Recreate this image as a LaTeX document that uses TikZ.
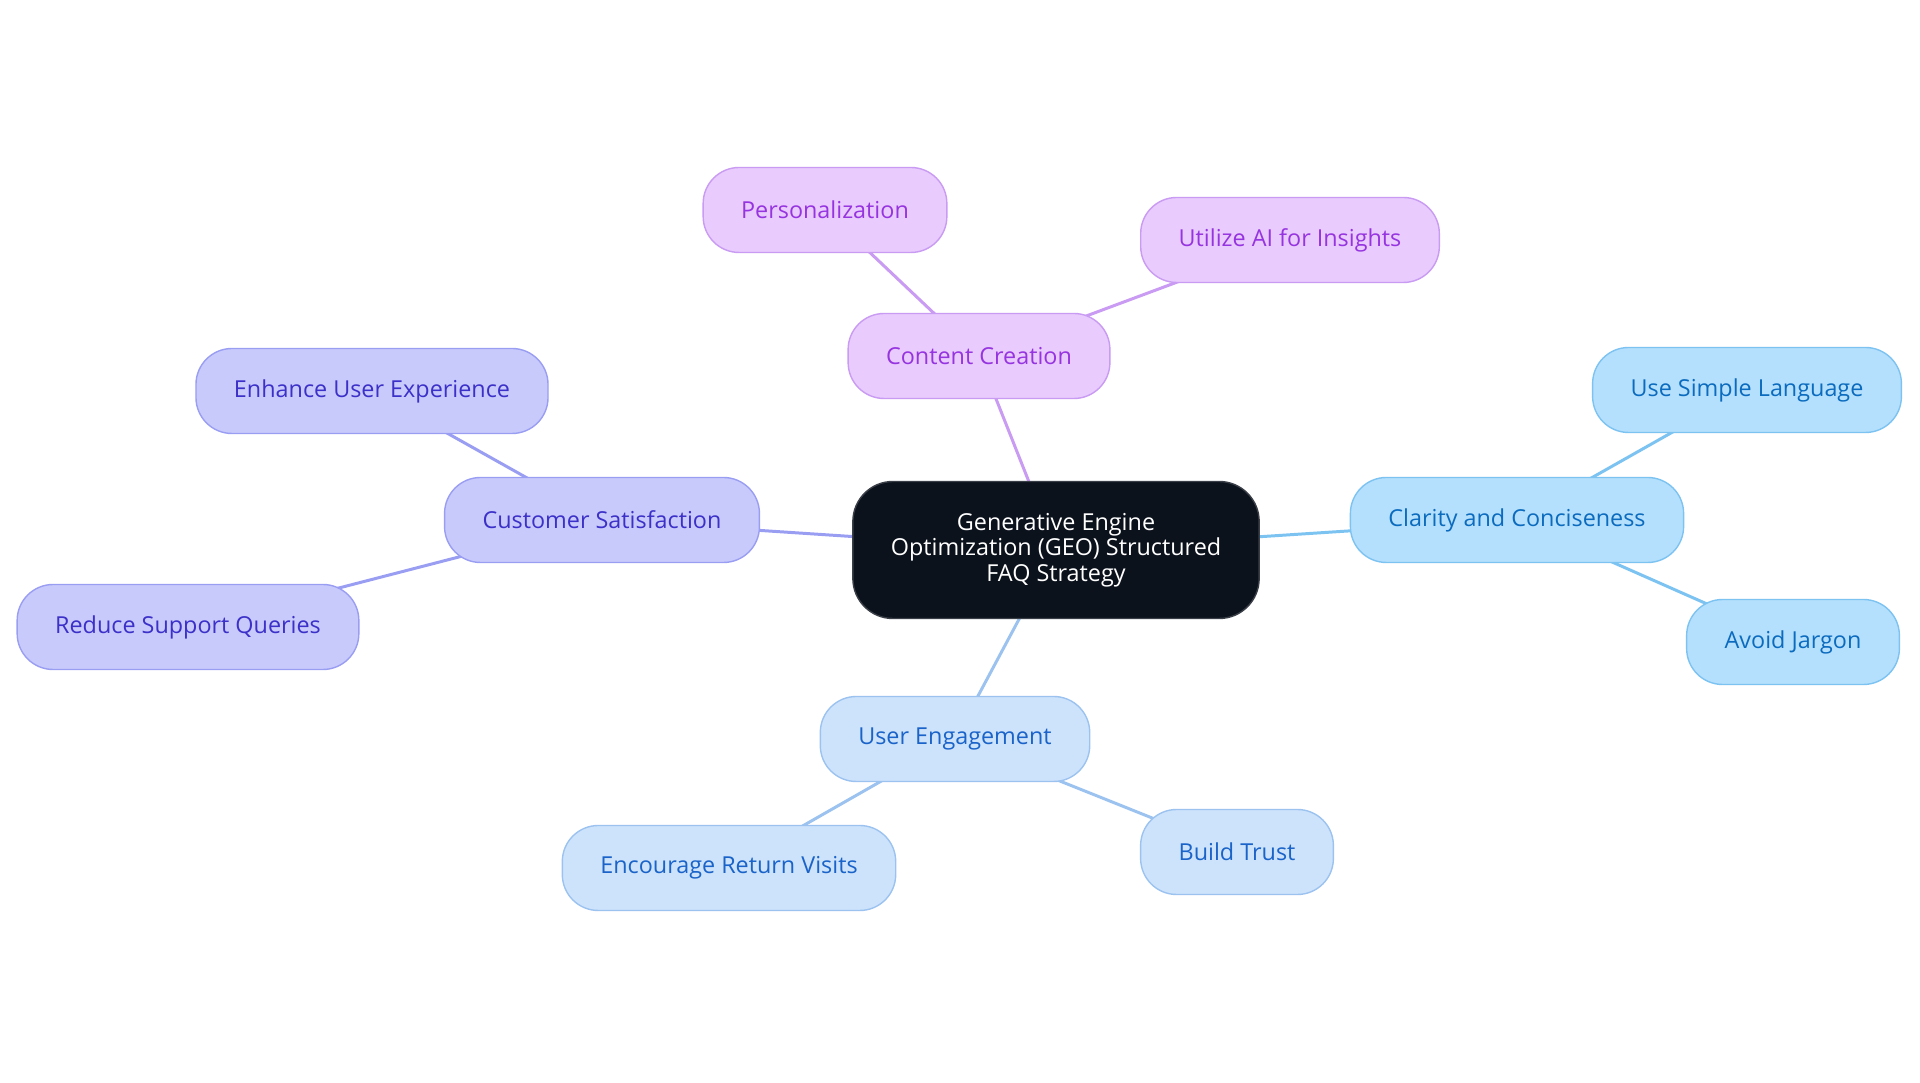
\documentclass[tikz,border=0pt]{standalone}
\usepackage{fontspec}
\setmainfont{Open Sans}
\usetikzlibrary{backgrounds}

\definecolor{purplefill}{HTML}{E9CBFD}
\definecolor{purpleline}{HTML}{C99BF2}
\definecolor{purpletext}{HTML}{9634E0}
\definecolor{indigofill}{HTML}{C8CAFC}
\definecolor{indigoline}{HTML}{9A9EF2}
\definecolor{indigotext}{HTML}{3B30C8}
\definecolor{skyfill}{HTML}{B5E0FD}
\definecolor{skyline}{HTML}{7DC3F2}
\definecolor{skytext}{HTML}{0B6BBE}
\definecolor{palefill}{HTML}{CDE3FB}
\definecolor{paleline}{HTML}{9CC3F0}
\definecolor{paletext}{HTML}{1A63C9}
\definecolor{rootfill}{HTML}{0C121C}
\definecolor{rootline}{HTML}{3A3F47}

\tikzset{
  topic/.style={rounded corners=0.72cm, minimum height=1.7cm, inner xsep=0.76cm,
    line width=0.8pt, align=center, font=\fontsize{13.3}{14.6}\selectfont},
  purpletopic/.style={topic, fill=purplefill, draw=purpleline, text=purpletext},
  indigotopic/.style={topic, fill=indigofill, draw=indigoline, text=indigotext},
  skytopic/.style={topic, fill=skyfill, draw=skyline, text=skytext},
  paletopic/.style={topic, fill=palefill, draw=paleline, text=paletext},
  roottopic/.style={topic, rounded corners=0.8cm, minimum width=8.12cm, minimum height=2.74cm,
    fill=rootfill, draw=rootline, text=white},
  link/.style={line width=1.7pt},
}

\begin{document}
\begin{tikzpicture}
\useasboundingbox (0,0) rectangle (38.4,21.66);

\node[roottopic] (root) at (21.12,10.66) {Generative Engine\\Optimization (GEO) Structured\\FAQ Strategy};

\node[purpletopic] (content) at (19.58,14.54) {Content Creation};
\node[purpletopic] (personal) at (16.50,17.46) {Personalization};
\node[purpletopic] (insights) at (25.80,16.86) {Utilize AI for Insights};

\node[indigotopic] (satisfaction) at (12.04,11.26) {Customer Satisfaction};
\node[indigotopic] (experience) at (7.44,13.84) {Enhance User Experience};
\node[indigotopic] (queries) at (3.76,9.12) {Reduce Support Queries};

\node[skytopic] (clarity) at (30.34,11.26) {Clarity and Conciseness};
\node[skytopic] (language) at (34.94,13.86) {Use Simple Language};
\node[skytopic] (jargon) at (35.86,8.82) {Avoid Jargon};

\node[paletopic] (engage) at (19.10,6.88) {User Engagement};
\node[paletopic] (visits) at (14.58,4.30) {Encourage Return Visits};
\node[paletopic] (trust) at (24.74,4.62) {Build Trust};

\begin{scope}[on background layer]
\draw[link, purpleline] (root.center) -- (content.center);
\draw[link, purpleline] (content.center) -- (personal.center);
\draw[link, purpleline] (content.center) -- (insights.center);

\draw[link, indigoline] (root.center) -- (satisfaction.center);
\draw[link, indigoline] (satisfaction.center) -- (experience.center);
\draw[link, indigoline] (satisfaction.center) -- (queries.center);

\draw[link, skyline] (root.center) -- (clarity.center);
\draw[link, skyline] (clarity.center) -- (language.center);
\draw[link, skyline] (clarity.center) -- (jargon.center);

\draw[link, paleline] (root.center) -- (engage.center);
\draw[link, paleline] (engage.center) -- (visits.center);
\draw[link, paleline] (engage.center) -- (trust.center);
\end{scope}

\end{tikzpicture}
\end{document}
